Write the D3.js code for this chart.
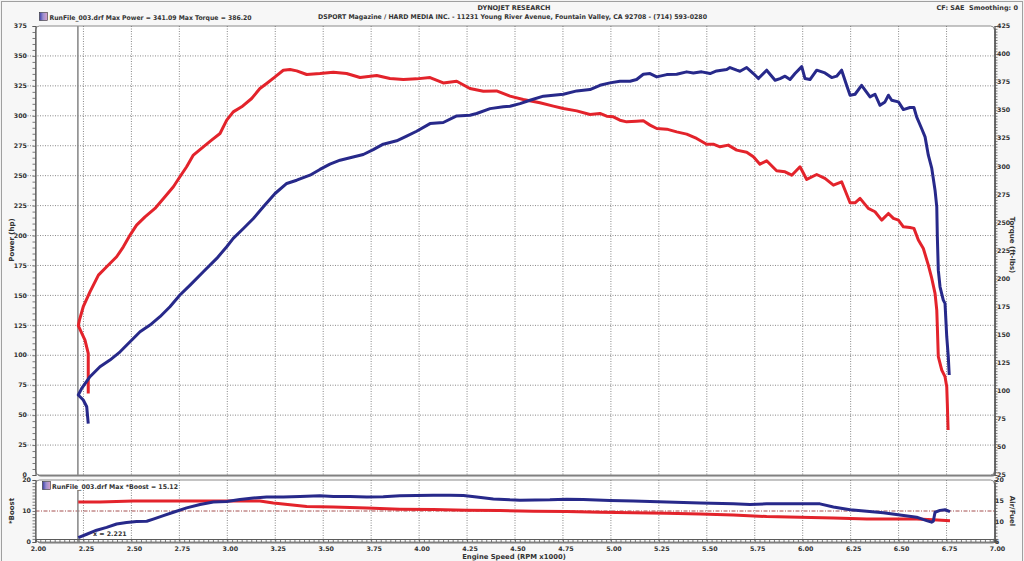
<!DOCTYPE html>
<html>
<head>
<meta charset="utf-8">
<script src="https://cdn.jsdelivr.net/npm/d3@7"></script>
<style>
  body { margin: 0; background: #fff; }
  svg text { font-family: "DejaVu Sans", Verdana, sans-serif; font-weight: bold; fill: #333; }
</style>
</head>
<body>
<svg id="chart" width="1024" height="561"></svg>
<script>
// ---- data ----
const powerRpm = [2.275,2.267,2.249,2.223,2.241,2.284,2.336,2.388,2.441,2.493,2.545,2.597,2.649,2.701,2.753,2.806,2.875,2.945,2.997,3.031,3.084,3.136,3.188,3.249,3.310,3.362,3.431,3.483,3.535,3.588,3.640,3.709,3.761,3.813,3.883,3.935,3.987,4.057,4.126,4.196,4.265,4.300,4.370,4.439,4.474,4.526,4.578,4.648,4.700,4.752,4.822,4.891,4.943,4.995,5.047,5.100,5.134,5.169,5.204,5.239,5.291,5.343,5.395,5.430,5.473,5.517,5.551,5.604,5.621,5.656,5.673,5.708,5.743,5.769,5.812,5.856,5.882,5.908,5.934,5.960,5.995,6.012,6.038,6.073,6.116,6.151,6.177,6.203,6.229,6.247,6.273,6.307,6.351,6.377,6.403,6.429,6.447,6.464,6.499,6.525,6.559,6.580,6.594,6.620,6.638,6.655,6.673,6.690,6.699,6.702,6.707,6.716,6.733,6.742,6.751,6.759,6.764];
const powerHp = [43,57,62.6,66.8,72.4,82.1,90.4,96,102.9,111.3,119.6,125.2,132.2,140.5,150.3,158.6,169.7,180.9,190.6,197.6,205.9,214.2,224,235.1,243.5,246.2,250.4,255.2,259.6,262.9,264.9,267.7,271.8,276.3,279.1,283,287.1,293.5,294.4,299.9,300.5,301.9,306,307.5,308,310.2,313,316.4,317.2,318,320.8,321.9,325.5,327.5,328.9,328.9,330.3,334.7,335.3,332.5,334.4,334.7,336.7,335.8,336.7,335.3,337.5,338.6,340.3,338.1,337.2,340.3,335.3,331.1,338.1,329.7,331.1,333.1,330.3,335.3,341.09,331.1,330.3,338.1,335.8,331.9,333.1,338.1,325.5,317.2,318,325.5,315.8,318,308.8,311.6,317.2,313,311.6,305.2,306.9,306.9,299.1,289.4,282.4,267.1,256,237.9,224,198.9,171.1,157.2,146.1,143.3,115.5,98.8,83.5];

const torqueRpm = [2.275,2.275,2.258,2.223,2.229,2.249,2.284,2.328,2.371,2.423,2.458,2.493,2.527,2.571,2.623,2.675,2.719,2.753,2.788,2.823,2.875,2.918,2.962,2.997,3.031,3.075,3.127,3.170,3.205,3.249,3.292,3.327,3.362,3.414,3.483,3.553,3.622,3.692,3.779,3.848,3.918,3.987,4.057,4.126,4.196,4.265,4.335,4.404,4.474,4.543,4.630,4.700,4.752,4.822,4.891,4.943,4.978,5.013,5.047,5.082,5.134,5.169,5.204,5.239,5.291,5.343,5.395,5.447,5.499,5.534,5.569,5.612,5.656,5.708,5.743,5.777,5.812,5.864,5.908,5.943,5.986,6.021,6.073,6.116,6.160,6.203,6.247,6.273,6.299,6.342,6.377,6.412,6.447,6.473,6.499,6.525,6.559,6.580,6.603,6.629,6.655,6.673,6.690,6.699,6.702,6.707,6.725,6.742,6.751,6.754,6.758];
const torqueFtlb = [97.7,133.3,145.2,158,163,174.9,188.2,203.1,210.5,219.4,228.3,238.7,247.6,255,262.5,272.8,281.8,290.7,299.6,310,317.4,323.3,329.2,341.1,348.5,353,360.4,369.3,373.8,379.7,385.6,386.2,385,381.8,382.7,383.9,382.7,379.1,380.9,378.2,377.3,377.9,379.1,374.3,375.8,369.3,366.9,367.2,362.5,359.5,356.6,353.6,351.5,349.4,346.2,347.1,344.7,344.1,341.1,339.6,340.2,340.5,336.7,333.7,333.1,330.7,328.7,324.8,319.7,319.7,317.4,318.9,314.4,312.6,308.5,301.9,304.9,296,295.1,292.1,299.6,288.3,292.7,289.2,283.2,286.2,267.5,267.5,271.4,262.5,259.5,252.1,258,253.6,252.1,246.1,245.5,244.7,234.3,226.8,212,200.1,186.8,171.9,157.1,130.4,118.5,112.6,103.7,88.8,65.1];

const boostRpm = [2.223,2.267,2.319,2.371,2.423,2.475,2.527,2.580,2.614,2.667,2.719,2.788,2.858,2.927,2.997,3.066,3.136,3.205,3.292,3.379,3.483,3.553,3.640,3.727,3.813,3.900,3.987,4.074,4.161,4.231,4.300,4.387,4.474,4.526,4.682,4.769,4.856,4.995,5.117,5.291,5.465,5.638,5.725,5.812,5.986,6.090,6.160,6.247,6.334,6.420,6.507,6.594,6.646,6.672,6.681,6.690,6.716,6.742,6.768];
const boostPsi = [1.4,2.5,3.8,4.7,5.8,6.3,6.6,6.7,7.4,8.5,9.6,11.0,12.1,12.9,13.1,13.7,14.2,14.5,14.5,14.7,14.9,14.7,14.7,14.5,14.6,14.9,15.0,15.1,15.12,15.0,14.5,13.9,13.6,13.5,13.6,13.8,13.7,13.4,13.2,12.9,12.6,12.3,12.1,12.3,12.3,12.3,11.3,10.4,9.9,9.4,8.7,8.0,6.9,6.4,6.7,9.6,10.2,10.4,9.8];

const afrRpm = [2.223,2.336,2.510,2.684,2.858,3.031,3.170,3.240,3.327,3.414,3.553,3.727,3.900,4.074,4.248,4.422,4.596,4.769,4.943,5.117,5.291,5.465,5.638,5.812,5.986,6.160,6.334,6.507,6.594,6.681,6.768];
const afrRatio = [14.67,14.67,14.9,14.9,14.9,14.9,14.9,14.43,14.02,13.61,13.44,13.2,12.95,12.87,12.7,12.62,12.46,12.38,12.21,12.05,11.97,11.8,11.56,11.15,10.98,10.82,10.57,10.57,10.57,10.41,10.16];

const rpmTicks = [2.00,2.25,2.50,2.75,3.00,3.25,3.50,3.75,4.00,4.25,4.50,4.75,5.00,5.25,5.50,5.75,6.00,6.25,6.50,6.75,7.00];
const hpTicks = [0,25,50,75,100,125,150,175,200,225,250,275,300,325,350,375];
const tqTicks = [25,50,75,100,125,150,175,200,225,250,275,300,325,350,375,400,425];
const boostTicks = [0,10,20];
const afrTicks = [5,10,15,20];
const cursorRpm = 2.221;

const titleLine1 = "DYNOJET RESEARCH";
const titleLine2 = "DSPORT Magazine / HARD MEDIA INC. - 11231 Young River Avenue, Fountain Valley, CA 92708 - (714) 593-0280";
const legendMain = "RunFile_003.drf Max Power = 341.09 Max Torque = 386.20";
const legendBoost = "RunFile_003.drf Max *Boost = 15.12";
const cfText = "CF: SAE  Smoothing: 0";

// ---- setup ----
const RED = "#e3232b", BLUE = "#27298a", AXIS = "#5a5a5a", GRID = "#6a6a6a";
const svg = d3.select("#chart");

const x = d3.scaleLinear().domain([2, 7]).range([35.5, 994.5]);
const yHp = d3.scaleLinear().domain([0, 375]).range([475, 26]);
const yTq = d3.scaleLinear().domain([25, 425]).range([475, 26]);
const yBoost = d3.scaleLinear().domain([0, 20]).range([542, 480]);
const yAfr = d3.scaleLinear().domain([5, 20]).range([542, 480]);

// page background + outer frame
svg.append("rect").attr("width", 1024).attr("height", 561).attr("fill", "#f3f3f3");
svg.append("rect").attr("x", 1.5).attr("y", 1.5).attr("width", 1021).attr("height", 600)
  .attr("fill", "#f7f7f7").attr("stroke", "#a0a0a0").attr("stroke-width", 1);

// panels
const panels = [[26, 475], [480, 542]];
panels.forEach(p => {
  svg.append("rect").attr("x", x(2) + 1.5).attr("y", p[0] + 1.5)
    .attr("width", x(7) - x(2)).attr("height", p[1] - p[0])
    .attr("rx", 4).attr("fill", "#777");
  svg.append("rect").attr("x", x(2)).attr("y", p[0])
    .attr("width", x(7) - x(2)).attr("height", p[1] - p[0])
    .attr("rx", 4).attr("fill", "#fff").attr("stroke", "#8a8a8a").attr("stroke-width", 1);
});

// ---- main panel grid ----
const gMain = svg.append("g");
gMain.selectAll(".vgrid").data(rpmTicks.slice(1, -1)).join("line")
  .attr("x1", d => x(d)).attr("x2", d => x(d)).attr("y1", 26).attr("y2", 475)
  .attr("stroke", GRID).attr("stroke-width", 0.8).attr("stroke-dasharray", "1,1.5");
gMain.selectAll(".hgrid").data(hpTicks.slice(1, -1)).join("line")
  .attr("x1", 25).attr("x2", x(7)).attr("y1", d => yHp(d)).attr("y2", d => yHp(d))
  .attr("stroke", GRID).attr("stroke-width", 0.8).attr("stroke-dasharray", "1,1.5");

// bottom panel grid
const gBot = svg.append("g");
gBot.selectAll(".vgrid").data(rpmTicks.slice(1, -1)).join("line")
  .attr("x1", d => x(d)).attr("x2", d => x(d)).attr("y1", 480).attr("y2", 542)
  .attr("stroke", GRID).attr("stroke-width", 0.8).attr("stroke-dasharray", "1,1.5");
gBot.append("line").attr("x1", x(2)).attr("x2", x(7))
  .attr("y1", yBoost(10)).attr("y2", yBoost(10))
  .attr("stroke", "#9a3b3b").attr("stroke-width", 0.9).attr("stroke-dasharray", "4,1.5,1,1.5");

// cursor line
[[26, 475], [480, 542]].forEach(p => {
  svg.append("line").attr("x1", x(cursorRpm)).attr("x2", x(cursorRpm))
    .attr("y1", p[0]).attr("y2", p[1]).attr("stroke", "#8c8c8c").attr("stroke-width", 1.6);
});

// ---- axes ----
const axisHp = d3.axisLeft(yHp).tickValues(d3.range(0, 376, 5)).tickSize(3).tickFormat("");
svg.append("g").attr("transform", `translate(${x(2)},0)`).call(axisHp);
const axisTq = d3.axisRight(yTq).tickValues(d3.range(25, 426, 2.5)).tickSize(3).tickFormat("");
svg.append("g").attr("transform", `translate(${x(7)},0)`).call(axisTq);
const axisBoost = d3.axisLeft(yBoost).tickValues(d3.range(0, 21, 1)).tickSize(3).tickFormat("");
svg.append("g").attr("transform", `translate(${x(2)},0)`).call(axisBoost);
const axisAfr = d3.axisRight(yAfr).tickValues(d3.range(5, 20.1, 0.75)).tickSize(3).tickFormat("");
svg.append("g").attr("transform", `translate(${x(7)},0)`).call(axisAfr);
const axisRpm = d3.axisBottom(x).tickValues(d3.range(2, 7.001, 0.025)).tickSize(3).tickFormat("");
svg.append("g").attr("transform", `translate(0,539)`).call(axisRpm);
svg.selectAll(".domain").attr("stroke", AXIS).attr("stroke-width", 1.2);
svg.selectAll(".tick line").attr("stroke", AXIS).attr("stroke-width", 0.8);

// tick labels
const lbl = svg.append("g").attr("font-size", 6.3);
lbl.selectAll(".hpl").data(hpTicks).join("text")
  .attr("x", 27).attr("y", d => yHp(d) + 2.2).attr("text-anchor", "end").text(d => d);
lbl.selectAll(".tql").data(tqTicks).join("text")
  .attr("x", 997).attr("y", d => yTq(d) + 2.2).text(d => d);
lbl.selectAll(".bl").data(boostTicks).join("text")
  .attr("x", 31).attr("y", d => yBoost(d) + 2.2).attr("text-anchor", "end").text(d => d);
lbl.selectAll(".al").data(afrTicks).join("text")
  .attr("x", 995).attr("y", d => yAfr(d) + 2.2).text(d => d);
lbl.selectAll(".xl").data(rpmTicks).join("text")
  .attr("x", d => x(d) + 3).attr("y", 550.5).attr("text-anchor", "middle").text(d => d.toFixed(2));

// axis titles
svg.append("text").attr("transform", "translate(14,240) rotate(-90)")
  .attr("text-anchor", "middle").attr("font-size", 7).text("Power (hp)");
svg.append("text").attr("transform", "translate(1010,245) rotate(90)")
  .attr("text-anchor", "middle").attr("font-size", 7).text("Torque (ft-lbs)");
svg.append("text").attr("transform", "translate(14,511) rotate(-90)")
  .attr("text-anchor", "middle").attr("font-size", 7).text("*Boost");
svg.append("text").attr("transform", "translate(1010,511) rotate(90)")
  .attr("text-anchor", "middle").attr("font-size", 7).text("Air/Fuel");
svg.append("text").attr("x", 514).attr("y", 559)
  .attr("text-anchor", "middle").attr("font-size", 6.8).text("Engine Speed (RPM x1000)");

// header
svg.append("text").attr("x", 514).attr("y", 9.5).attr("text-anchor", "middle")
  .attr("font-size", 6.5).text(titleLine1);
svg.append("text").attr("x", 512.5).attr("y", 18.5).attr("text-anchor", "middle")
  .attr("font-size", 6.5).attr("textLength", 389).attr("lengthAdjust", "spacingAndGlyphs").text(titleLine2);
svg.append("text").attr("x", 1018).attr("y", 9.5).attr("text-anchor", "end")
  .attr("font-size", 6.5).attr("xml:space", "preserve").style("white-space", "pre").text(cfText);

// legend icons
const defs = svg.append("defs");
const grad = defs.append("linearGradient").attr("id", "ico");
grad.append("stop").attr("offset", "0%").attr("stop-color", "#3b3ea8");
grad.append("stop").attr("offset", "45%").attr("stop-color", "#9a8fd0");
grad.append("stop").attr("offset", "100%").attr("stop-color", "#d9a0c8");
function legend(ix, iy, tx, ty, txt, len) {
  svg.append("rect").attr("x", ix).attr("y", iy).attr("width", 8).attr("height", 8)
    .attr("fill", "url(#ico)").attr("stroke", "#333").attr("stroke-width", 0.6);
  svg.append("text").attr("x", tx).attr("y", ty).attr("font-size", 6.5)
    .attr("textLength", len).attr("lengthAdjust", "spacingAndGlyphs").text(txt);
}
legend(39.5, 12.5, 49.5, 19.5, legendMain, 202);
svg.append("rect").attr("x", 41).attr("y", 481).attr("width", 137).attr("height", 9).attr("fill", "#fff");
legend(42.5, 481.5, 52, 488.5, legendBoost, 126);

// ---- curves ----
const lineHp = d3.line().x((d, i) => x(powerRpm[i])).y(d => yHp(d));
const lineTq = d3.line().x((d, i) => x(torqueRpm[i])).y(d => yTq(d));
const lineBoost = d3.line().x((d, i) => x(boostRpm[i])).y(d => yBoost(d));
const lineAfr = d3.line().x((d, i) => x(afrRpm[i])).y(d => yAfr(d));

svg.append("path").datum(torqueFtlb).attr("d", lineTq)
  .attr("fill", "none").attr("stroke", RED).attr("stroke-width", 3).attr("stroke-linejoin", "round");
svg.append("path").datum(powerHp).attr("d", lineHp)
  .attr("fill", "none").attr("stroke", BLUE).attr("stroke-width", 3).attr("stroke-linejoin", "round");
svg.append("path").datum(afrRatio).attr("d", lineAfr)
  .attr("fill", "none").attr("stroke", RED).attr("stroke-width", 3).attr("stroke-linejoin", "round");
svg.append("path").datum(boostPsi).attr("d", lineBoost)
  .attr("fill", "none").attr("stroke", BLUE).attr("stroke-width", 3).attr("stroke-linejoin", "round");

// cursor readout
svg.append("text").attr("x", 93).attr("y", 535.5).attr("font-size", 6.3).text("x = 2.221");
</script>
</body>
</html>
